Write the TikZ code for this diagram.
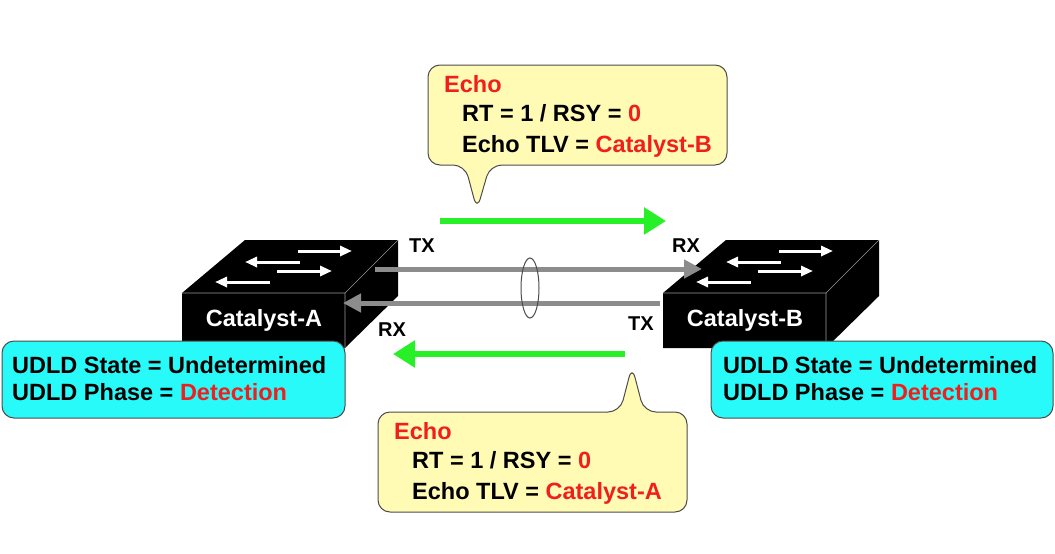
\documentclass[tikz,border=0pt]{standalone}
\usepackage{fontspec}
\setmainfont{Liberation Sans}
\usetikzlibrary{arrows.meta}
\definecolor{note}{RGB}{255,250,180}
\definecolor{state}{RGB}{40,250,250}
\definecolor{hot}{RGB}{240,30,30}
\definecolor{arrg}{RGB}{40,240,40}
\begin{document}
\begin{tikzpicture}[x=1pt,y=-1pt,
  txt/.style={font=\bfseries\fontsize{23.5}{28}\selectfont,inner sep=0pt},
  port/.style={txt,font=\bfseries\fontsize{20}{24}\selectfont},
  box/.style={draw=black!70,line width=1pt,rounded corners=12pt},
  link/.style={draw=black!45,line width=5pt},
  flow/.style={draw=arrg,line width=6pt,-{Triangle[length=22pt,width=26pt]}}]
\useasboundingbox (0,0) rectangle (1055,554);
% switches
\foreach \x/\n in {182/Catalyst-A,663/Catalyst-B}{
  \fill[black] (\x,293) -- (\x+63,240) -- (\x+216,240) -- (\x+216,296) -- (\x+163,348) -- (\x,348) -- cycle;
  \draw[white!60!black,line width=0.6pt] (\x,293) -- (\x+163,293) -- (\x+216,240) (\x+163,293) -- (\x+163,348);
  \foreach \a/\b/\dy in {116/170/251,95/150/271}
    \draw[white,line width=3pt,-{Triangle[length=12pt,width=10pt]}] (\x+\a,\dy) -- (\x+\b,\dy);
  \foreach \a/\b/\dy in {63/118/262,33/88/282}
    \draw[white,line width=3pt,{Triangle[length=12pt,width=10pt]}-] (\x+\a,\dy) -- (\x+\b,\dy);
  \node[txt,white] at (\x+82,320) {\n};
}
% links
\coordinate (ta) at (375,269); \coordinate (rb) at (702,269);
\coordinate (tb) at (660,303); \coordinate (ra) at (343,303);
\draw[link,-{Triangle[length=18pt,width=18pt]}] (ta) -- (rb);
\draw[link,-{Triangle[length=18pt,width=18pt]}] (tb) -- (ra);
\draw[draw=black!70,line width=1pt] (530,288) ellipse (9 and 30);
\node[port] (tx1) at (422,246) {TX};
\node[port] (rx1) at (686,246) {RX};
\node[port] (rx2) at (392,330) {RX};
\node[port] (tx2) at (641,324) {TX};
% echo flows
\coordinate (g1) at (440,221); \coordinate (g2) at (666,221);
\coordinate (g3) at (625,354); \coordinate (g4) at (393,354);
\draw[flow] (g1) -- (g2);
\draw[flow] (g3) -- (g4);
% callouts
\draw[box,fill=note] (428,65) -- (727,65) -- (727,165) -- (490,165) -- (477,210) -- (465,165) -- (428,165) -- cycle;
\node[txt,anchor=north west,align=left] (e1) at (444,75) {\textcolor{hot}{Echo}\\[1pt]
  \hspace*{18pt}RT = 1 / RSY = \textcolor{hot}{0}\\[3pt]
  \hspace*{18pt}Echo TLV = \textcolor{hot}{Catalyst-B}};
\draw[box,fill=note] (378,412) -- (620,412) -- (632,366) -- (644,412) -- (687,412) -- (687,512) -- (378,512) -- cycle;
\node[txt,anchor=north west,align=left] (e2) at (394,422) {\textcolor{hot}{Echo}\\[1pt]
  \hspace*{18pt}RT = 1 / RSY = \textcolor{hot}{0}\\[3pt]
  \hspace*{18pt}Echo TLV = \textcolor{hot}{Catalyst-A}};
% states
\draw[box,fill=state] (2,341) rectangle (345,418);
\node[txt,anchor=west,align=left] (sa) at (12,379) {UDLD State = Undetermined\\[-1pt]UDLD Phase = \textcolor{hot}{Detection}};
\draw[box,fill=state] (711,341) rectangle (1053,418);
\node[txt,anchor=west,align=left] (sb) at (723,379) {UDLD State = Undetermined\\[-1pt]UDLD Phase = \textcolor{hot}{Detection}};
\end{tikzpicture}
\end{document}
